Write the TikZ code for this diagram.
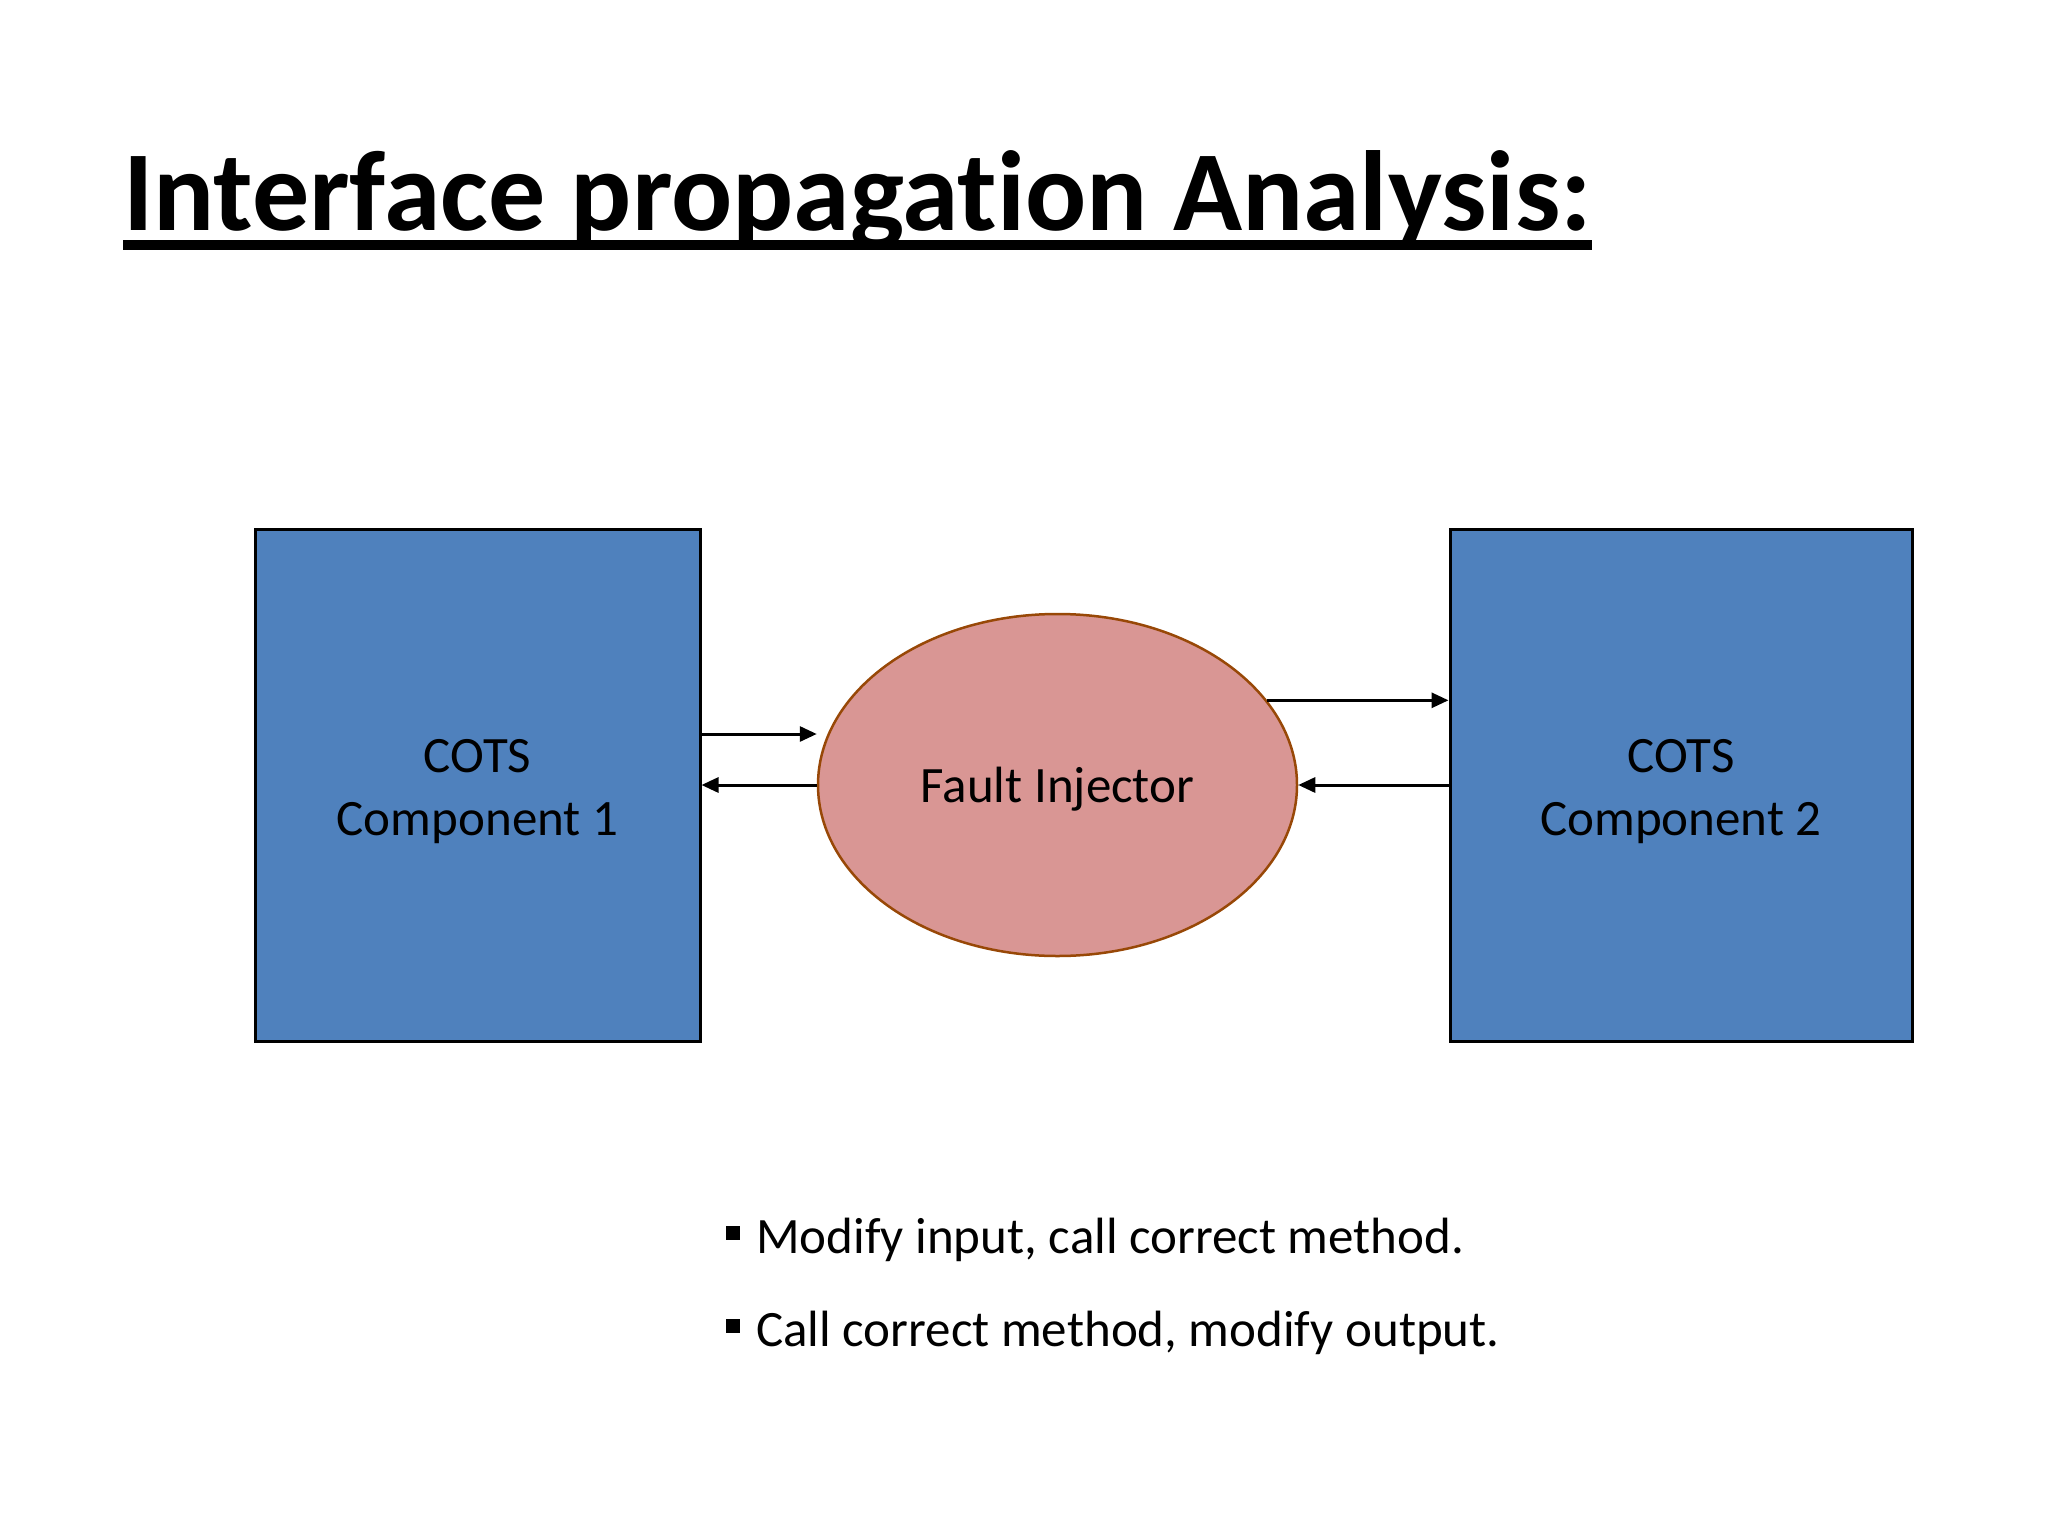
\documentclass[tikz,border=0pt]{standalone}
\usepackage{fontspec}
\setmainfont{Carlito}[Ligatures=CommonOff]
\usetikzlibrary{shapes.geometric,arrows.meta}
\definecolor{boxblue}{RGB}{79,129,189}
\definecolor{ellfill}{RGB}{217,150,148}
\definecolor{ellline}{RGB}{152,72,7}
\tikzset{
  compbox/.style={draw=black, line width=3pt, fill=boxblue, minimum height=512pt, inner sep=0pt},
  boxlabel/.style={align=center, inner sep=0pt, font=\fontsize{51}{63}\selectfont},
  injector/.style={ellipse, draw=ellline, line width=2.5pt, fill=ellfill, minimum width=479pt, minimum height=342pt,
    inner sep=0pt},
  arr/.style={line width=3pt, -{Triangle[length=17pt,width=15pt]}},
  bulletsq/.style={fill=black, minimum size=14pt, inner sep=0pt},
  itemtext/.style={anchor=base west, inner sep=0pt, font=\fontsize{51}{60}\selectfont},
}
\begin{document}
\begin{tikzpicture}[x=1pt,y=-1pt]
\useasboundingbox[fill=white] (0,0) rectangle (2048,1536);
\node[anchor=base west, inner sep=0pt, font=\fontsize{114}{130}\selectfont\bfseries] (T) at (123,230) {Interface propagation Analysis:};
\draw[line width=10pt] ([yshift=-15pt]T.base west) -- ([yshift=-15pt]T.base east);
\node[compbox, minimum width=445pt] (L) at (477.5,785) {};
\node[boxlabel] (Lt) at ([yshift=-7pt]L.center) {COTS\\Component 1};
\node[compbox, minimum width=462pt] (R) at (1681,785) {};
\node[boxlabel] (Rt) at ([yshift=-7pt]R.center) {COTS\\Component 2};
\node[injector] (E) at (1057.5,785) {};
\node[boxlabel] (Et) at ([yshift=-4pt]E.center) {Fault Injector};
\coordinate (l1) at ([yshift=51pt]L.east);
\draw[arr] (l1) -- (l1 -| E.west);
\draw[arr] (E.west) -- (L.east);
\draw[arr] (E.22) -- (E.22 -| R.west);
\draw[arr] (R.west) -- (E.east);
\node[bulletsq] (b1) at (733,1233) {};
\node[itemtext] (i1) at (756,1253) {Modify input, call correct method.};
\node[bulletsq] (b2) at (733,1326) {};
\node[itemtext] (i2) at (756,1346) {Call correct method, modify output.};
\end{tikzpicture}
\end{document}
